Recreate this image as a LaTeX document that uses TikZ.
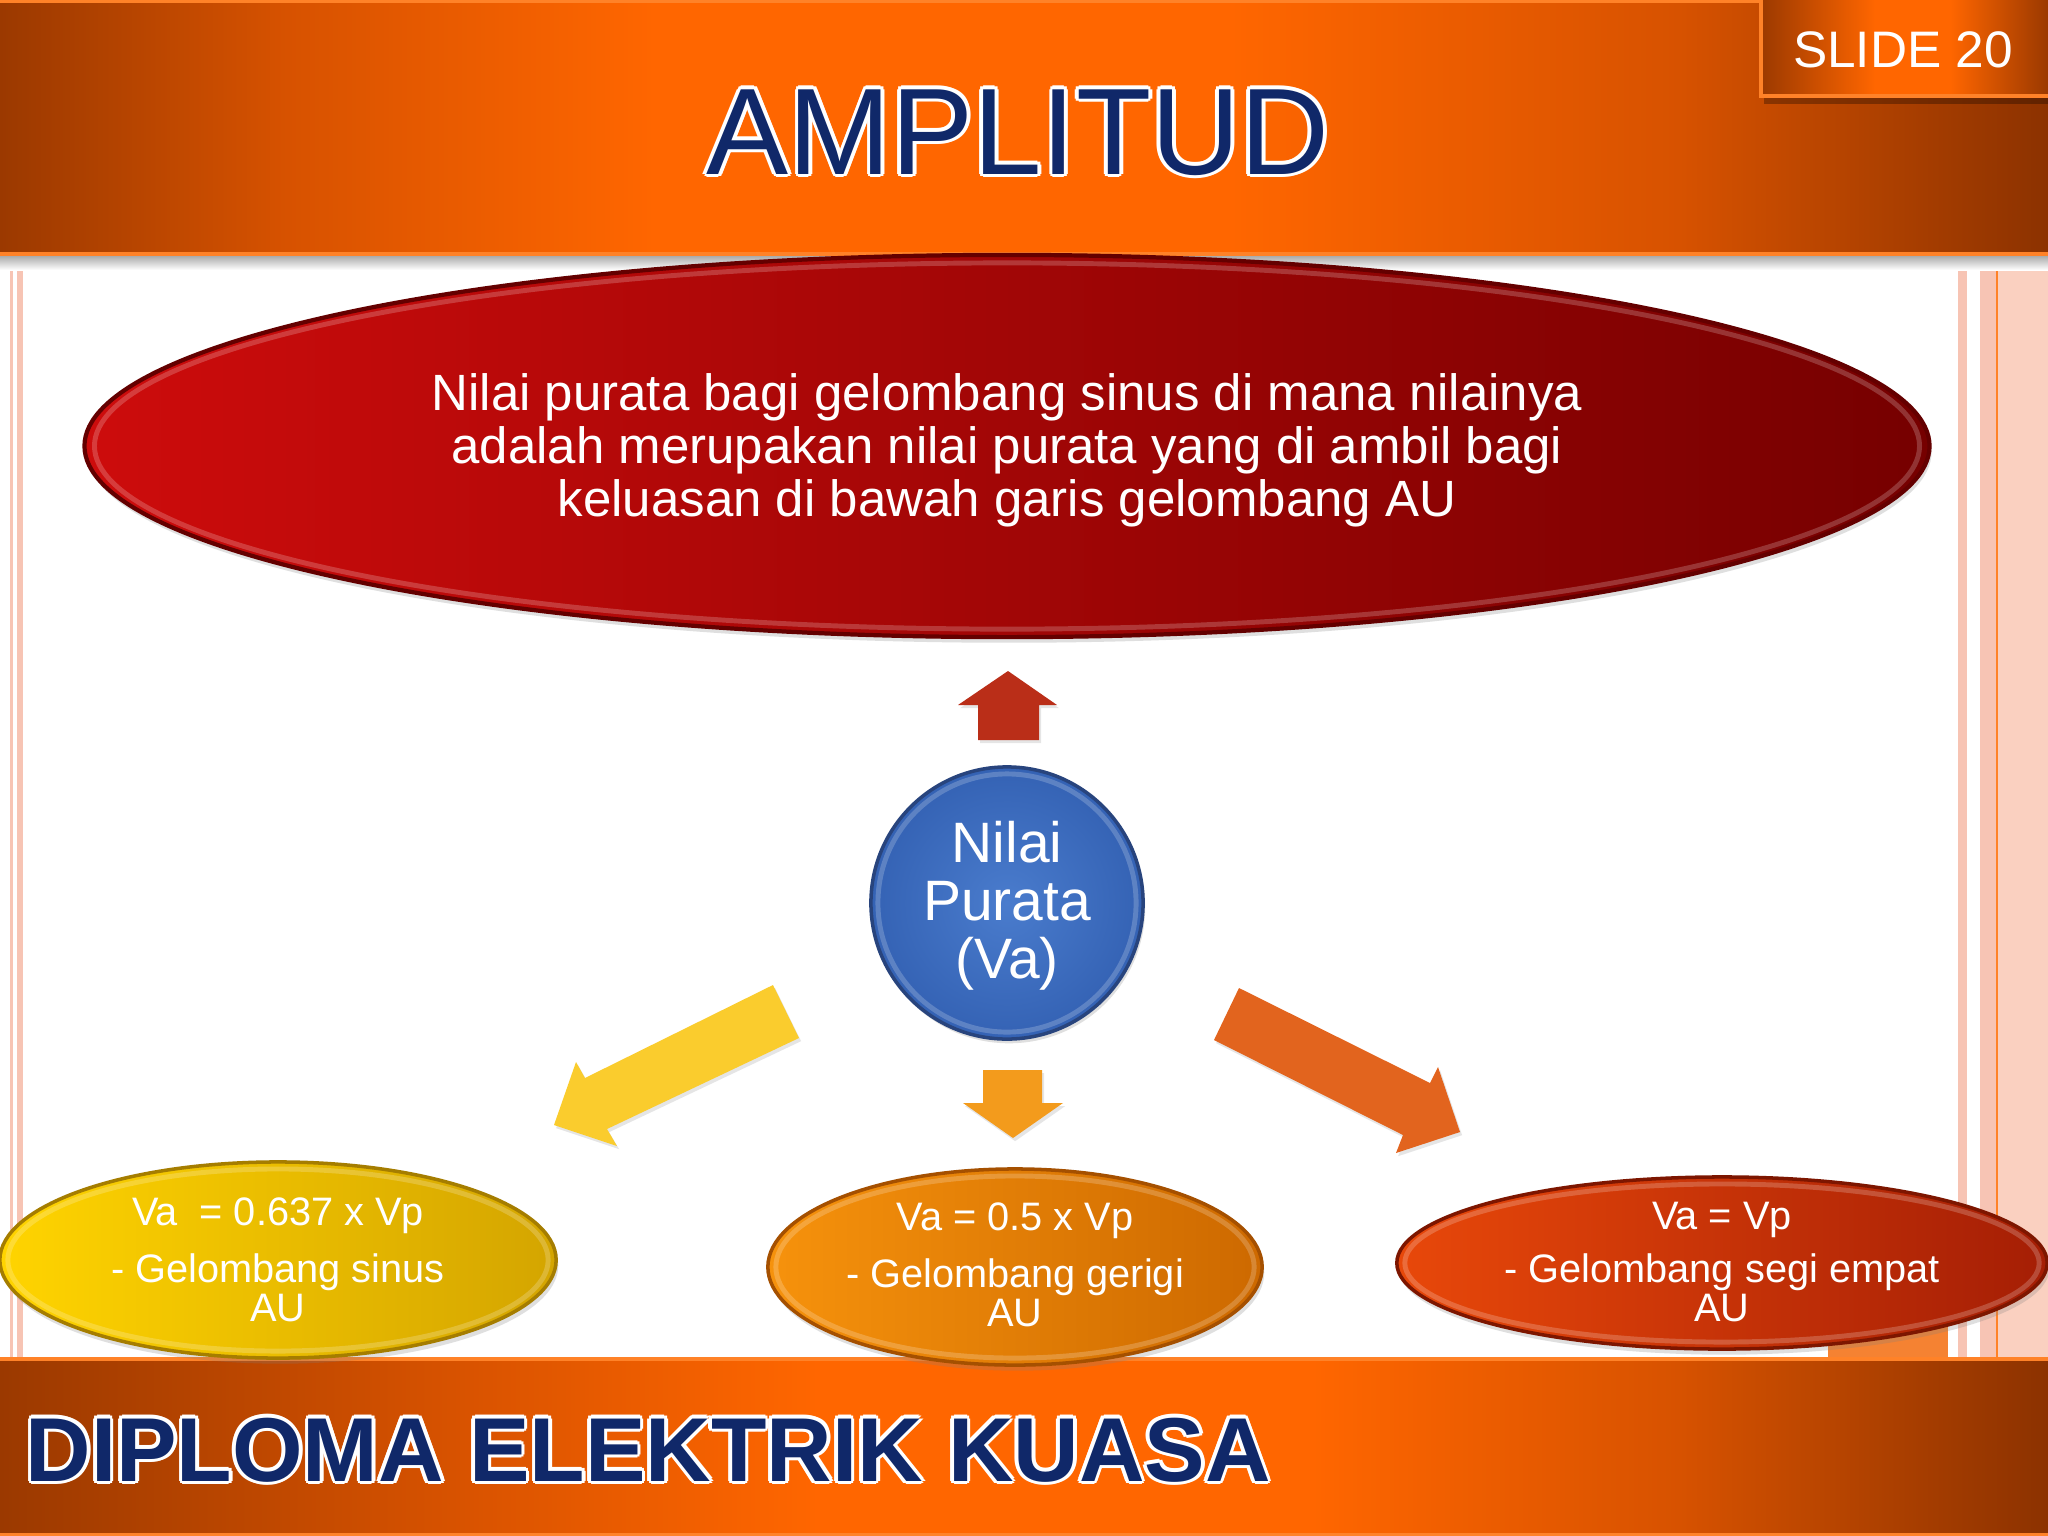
\documentclass[tikz,border=0pt]{standalone}
\usepackage{fontspec}
\setmainfont{Liberation Sans}
\usetikzlibrary{shapes.geometric,shadows}

\definecolor{bdk}{RGB}{155,57,0}
\definecolor{bdkb}{RGB}{140,50,0}
\definecolor{bmid}{RGB}{215,82,0}
\definecolor{bbr}{RGB}{255,102,0}
\definecolor{bline}{RGB}{255,130,40}
\definecolor{navy}{RGB}{16,40,105}
\definecolor{stripe}{RGB}{247,196,180}
\definecolor{stripeb}{RGB}{250,208,192}
\definecolor{redL}{RGB}{205,12,12}
\definecolor{redR}{RGB}{118,0,0}
\definecolor{redD}{RGB}{100,0,0}
\definecolor{blueI}{RGB}{74,124,205}
\definecolor{blueO}{RGB}{52,98,180}
\definecolor{blueD}{RGB}{40,68,125}
\definecolor{upC}{RGB}{186,46,24}
\definecolor{downC}{RGB}{243,155,28}
\definecolor{yelC}{RGB}{250,204,45}
\definecolor{rgtC}{RGB}{226,100,30}
\definecolor{yL}{RGB}{255,212,0}
\definecolor{yR}{RGB}{212,165,0}
\definecolor{yD}{RGB}{165,125,0}
\definecolor{oL}{RGB}{246,146,12}
\definecolor{oR}{RGB}{205,105,0}
\definecolor{oD}{RGB}{165,80,0}
\definecolor{rL}{RGB}{232,72,10}
\definecolor{rR}{RGB}{165,30,5}
\definecolor{rD}{RGB}{125,22,0}
\definecolor{deco}{RGB}{245,130,50}

\pgfdeclarehorizontalshading{topbar}{100bp}{color(0bp)=(bdk); color(25bp)=(bdk); color(32bp)=(bmid); color(41bp)=(bbr); color(55bp)=(bbr); color(66bp)=(bmid); color(75bp)=(bdkb); color(100bp)=(bdkb)}
\pgfdeclarehorizontalshading{botbar}{100bp}{color(0bp)=(bdk); color(25bp)=(bdk); color(36bp)=(bmid); color(45bp)=(bbr); color(57bp)=(bbr); color(66bp)=(bmid); color(75bp)=(bdkb); color(100bp)=(bdkb)}
\pgfdeclarehorizontalshading{slidebar}{100bp}{color(0bp)=(bdk); color(25bp)=(bdk); color(45bp)=(bbr); color(58bp)=(bbr); color(75bp)=(bdk); color(100bp)=(bdk)}

\tikzset{
  bigtxt/.style={text=white, align=center, inner sep=0pt, font=\fontsize{14.5pt}{15.1pt}\selectfont},
  circtxt/.style={text=white, align=center, inner sep=0pt, font=\fontsize{16.2pt}{16.5pt}\selectfont},
  smalltxt/.style={text=white, align=center, inner sep=0pt, font=\fontsize{11.3pt}{11.1pt}\selectfont},
  slidetxt/.style={text=white, inner sep=0pt, anchor=base, font=\fontsize{14.6pt}{16pt}\selectfont},
  titlefont/.style={inner sep=0pt, anchor=base, font=\fontsize{35pt}{37pt}\selectfont},
  footfont/.style={inner sep=0pt, anchor=base west, font=\fontsize{25.8pt}{27pt}\selectfont\bfseries},
  blob/.style={ellipse, inner sep=0pt, drop shadow={shadow xshift=0.6pt, shadow yshift=-1.6pt, opacity=0.25}},
  bev/.style={white, opacity=0.2, line width=1.4pt},
  blockarrow/.style={line width=0.5pt, drop shadow={shadow xshift=0.6pt, shadow yshift=-0.9pt, opacity=0.2}}
}

\begin{document}
\begin{tikzpicture}[x=0.01cm,y=-0.01cm]
\useasboundingbox (0,0) rectangle (2048,1536);
\fill[white] (0,0) rectangle (2048,1536);

% side stripes
\fill[stripe] (10,255) rectangle (13,1359);
\fill[stripe] (17,255) rectangle (23,1359);
\fill[stripe] (1958,255) rectangle (1967,1359);
\fill[stripeb] (1980,255) rectangle (2048,1359);
\fill[stripe] (1980,255) rectangle (1996,1359);
\draw[bline, line width=0.6pt] (1997,255) -- (1997,1359);

% decoration behind right ellipse
\fill[deco] (1828,1270) rectangle (1948,1359);

% top banner
\fill[top color=black!35, bottom color=white] (0,255) rectangle (2048,270);
\fill[shading=topbar] (0,0) rectangle (2048,255);
\draw[bline, line width=1pt] (0,1.5) -- (2048,1.5);
\draw[bline, line width=1pt] (0,254) -- (2048,254);

% slide number box
\fill[black, opacity=0.3] (1764,97) rectangle (2048,104);
\fill[shading=slidebar] (1760,0) rectangle (2048,97);
\draw[bline, line width=1pt] (1761,0) -- (1761,96) -- (2048,96);
\node[slidetxt] (slideno) at (1903,67) {SLIDE 20};

% title with white outline
\coordinate (tpos) at (1018,174);
\foreach \a in {0,45,...,315}
  \node[titlefont, text=white, xshift={1.1*cos(\a)*1pt}, yshift={1.1*sin(\a)*1pt}] at (tpos) {AMPLITUD};
\node[titlefont, text=navy] (title) at (tpos) {AMPLITUD};

% bottom banner
\fill[shading=botbar] (0,1359) rectangle (2048,1536);
\draw[bline, line width=1pt] (0,1359) -- (2048,1359);
\draw[bline, line width=1pt] (0,1535) -- (2048,1535);

\coordinate (fpos) at (25,1481);
\foreach \a in {0,45,...,315}
  \node[footfont, text=white, xshift={1.05*cos(\a)*1pt}, yshift={1.05*sin(\a)*1pt}] at (fpos) {DIPLOMA ELEKTRIK KUASA};
\node[footfont, text=navy] (footer) at (fpos) {DIPLOMA ELEKTRIK KUASA};

% big red ellipse
\node[blob, minimum width=18.44cm, minimum height=3.82cm, left color=redL, right color=redR, draw=redD, line width=1.2pt] (top) at (1007,446) {};
\draw[bev] (top.center) ellipse [x radius=9.12cm, y radius=1.83cm];
\node[bigtxt] (toptext) at (1007,450) {Nilai purata bagi gelombang sinus di mana nilainya\\adalah merupakan nilai purata yang di ambil bagi\\keluasan di bawah garis gelombang AU};

% central circle
\node[circle, inner sep=0pt, minimum size=2.72cm, inner color=blueI, outer color=blueO, draw=blueD, line width=1pt, drop shadow={shadow xshift=0.6pt, shadow yshift=-1.2pt, opacity=0.25}] (va) at (1007,903) {};
\draw[bev] (va.center) circle [radius=1.29cm];
\node[circtxt] (vatext) at (1007,906) {Nilai\\Purata\\(Va)};

% block arrows
\fill[upC, blockarrow] (978,740) -- (978,705) -- (958,705) -- (1008,671) -- (1057,705) -- (1039,705) -- (1039,740) -- cycle;
\fill[downC, blockarrow] (983,1070) -- (1042,1070) -- (1042,1103) -- (1063,1103) -- (1013,1138) -- (963,1103) -- (983,1103) -- cycle;
\fill[yelC, blockarrow] (773,985) -- (799,1038) -- (607,1129) -- (617,1146) -- (554,1125) -- (576,1062) -- (585,1078) -- cycle;
\fill[rgtC, blockarrow] (1239,988) -- (1430,1083) -- (1438,1067) -- (1460,1132) -- (1396,1153) -- (1403,1135) -- (1214,1040) -- cycle;

% bottom ellipses
\node[blob, minimum width=5.56cm, minimum height=1.96cm, left color=yL, right color=yR, draw=yD, line width=1pt] (e1) at (278,1260) {};
\draw[bev] (e1.center) ellipse [x radius=2.7cm, y radius=0.91cm];
\node[smalltxt] (t1) at (278,1260) {Va\ \ = 0.637 x Vp\\[5pt]- Gelombang sinus\\AU};

\node[blob, minimum width=4.94cm, minimum height=1.96cm, left color=oL, right color=oR, draw=oD, line width=1pt] (e2) at (1015,1267) {};
\draw[bev] (e2.center) ellipse [x radius=2.39cm, y radius=0.91cm];
\node[smalltxt] (t2) at (1015,1265) {Va = 0.5 x Vp\\[5pt]- Gelombang gerigi\\AU};

\node[blob, minimum width=6.5cm, minimum height=1.72cm, left color=rL, right color=rR, draw=rD, line width=1pt] (e3) at (1722,1263) {};
\draw[bev] (e3.center) ellipse [x radius=3.17cm, y radius=0.79cm];
\node[smalltxt] (t3) at (1722,1262) {Va = Vp\\[4pt]- Gelombang segi empat\\AU};

\end{tikzpicture}
\end{document}
